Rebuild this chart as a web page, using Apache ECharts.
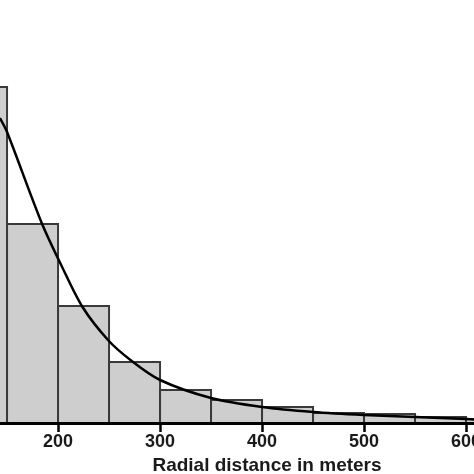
<!DOCTYPE html>
<html>
<head>
<meta charset="utf-8">
<script src="https://cdn.jsdelivr.net/npm/echarts@6/dist/echarts.min.js"></script>
<style>
  html, body { margin: 0; padding: 0; background: #fff; overflow: hidden; }
  #chart { width: 474px; height: 474px; }
</style>
</head>
<body>
<div id="chart"></div>
<script>
// histogram bins (meters), 50 m wide
var binStart = [100, 150, 200, 250, 300, 350, 400, 450, 500, 550, 600];
var binEnd   = [150, 200, 250, 300, 350, 400, 450, 500, 550, 600, 650];
var binCount = [336, 199, 117, 61, 33, 23, 16, 10, 9, 6, 4];

// fitted curve
var curveX = [143, 150, 184, 204, 224, 249, 271, 300, 350, 400, 450, 500, 550, 600, 610];
var curveY = [305, 291, 200, 156, 116, 83, 63, 43, 25, 16, 11, 8, 6, 4, 3.5];

var tickValues = [200, 300, 400, 500, 600];

var font = 'Liberation Sans, Arial, sans-serif';

var bars = binStart.map(function (s, i) { return [s, binEnd[i], binCount[i]]; });
var curve = curveX.map(function (x, i) { return [x, curveY[i]]; });

var myChart = echarts.init(document.getElementById('chart'));

var option = {
  animation: false,
  grid: { left: 0, right: 0, top: 0, bottom: 51, outerBoundsMode: 'none' },
  xAxis: {
    type: 'value',
    min: 143.1,
    max: 607.8,
    z: 10,
    name: 'Radial distance in meters',
    nameLocation: 'middle',
    nameGap: 33,
    nameTextStyle: {
      fontFamily: font, fontSize: 19, fontWeight: 'bold', color: '#1a1a1a',
      padding: [0, 0, 0, 60]
    },
    splitLine: { show: false },
    axisLine: { show: true, lineStyle: { color: '#000', width: 3 } },
    axisTick: { show: true, length: 9, customValues: tickValues, lineStyle: { color: '#000', width: 2.5 } },
    axisLabel: {
      customValues: tickValues, margin: 10, hideOverlap: false,
      fontFamily: font, fontSize: 18, fontWeight: 'bold', color: '#1a1a1a'
    }
  },
  yAxis: { type: 'value', min: 0, max: 423, show: false },
  series: [
    {
      type: 'custom',
      z: 2,
      data: bars,
      renderItem: function (params, api) {
        var p0 = api.coord([api.value(0), api.value(2)]);
        var p1 = api.coord([api.value(1), 0]);
        var rect = echarts.graphic.clipRectByRect(
          { x: p0[0], y: p0[1], width: p1[0] - p0[0], height: p1[1] - p0[1] },
          { x: params.coordSys.x - 2, y: params.coordSys.y, width: params.coordSys.width + 4, height: params.coordSys.height }
        );
        return rect && {
          type: 'rect',
          shape: rect,
          style: { fill: '#cecece', stroke: '#3a3a3a', lineWidth: 2 }
        };
      }
    },
    {
      type: 'line',
      z: 3,
      data: curve,
      smooth: 0.3,
      symbol: 'none',
      lineStyle: { color: '#000', width: 2.5 }
    }
  ]
};
myChart.setOption(option);
</script>
</body>
</html>
